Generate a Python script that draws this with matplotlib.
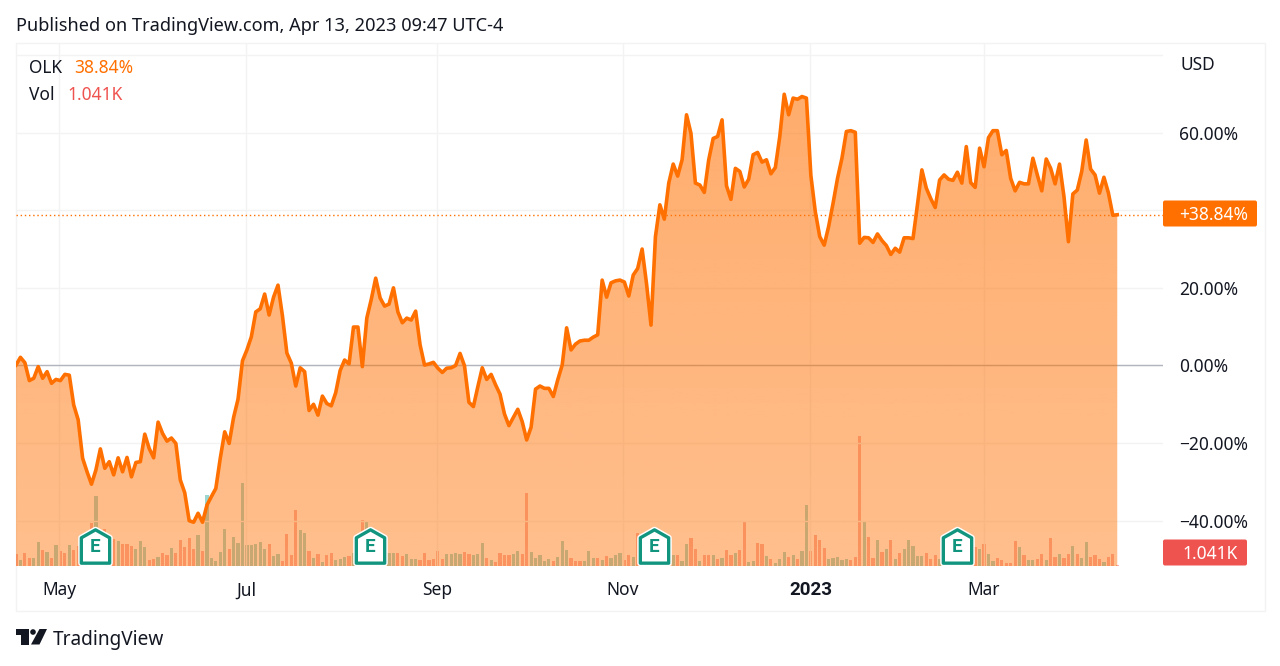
import numpy as np
import matplotlib
matplotlib.use('Agg')
import matplotlib.pyplot as plt
from matplotlib.markers import MarkerStyle
from matplotlib.patches import Circle, Polygon, Rectangle, FancyBboxPatch
from matplotlib.path import Path

ORANGE = '#ff7000'
RED = '#ef5350'
TEAL = '#26a69a'
DARK = '#131722'
GRID = '#f3f3f3'
FLAG = '#12957f'

# percent change, one value per session
pct_change = [
    0.1, 2.1, 0.7, -3.9, -3.3, -0.3, -3.3, -1.6, -4.6, -3.6,
    -3.9, -2.3, -2.5, -10.2, -14.0, -23.9, -27.4, -30.6, -26.9, -21.5,
    -26.5, -24.8, -28.2, -23.8, -27.4, -23.7, -28.7, -25.0, -24.8, -17.7,
    -21.4, -23.8, -14.6, -17.5, -19.5, -18.7, -20.1, -29.5, -32.8, -40.0,
    -40.4, -38.1, -40.4, -36.0, -33.8, -31.7, -23.9, -17.1, -20.1, -13.4,
    -8.7, 1.2, 4.0, 7.4, 13.8, 14.6, 18.4, 13.0, 17.6, 20.7,
    12.8, 3.2, 0.6, -5.3, -0.6, -1.6, -11.6, -10.0, -12.8, -7.9,
    -9.8, -10.4, -7.0, -1.3, 1.4, 0.4, 9.9, 9.9, -0.3, 12.2,
    17.0, 22.5, 17.4, 15.3, 15.8, 20.0, 13.8, 11.0, 12.2, 11.7,
    14.0, 5.3, 0.1, 0.4, 0.8, -0.7, -1.8, -0.7, -0.6, 0.0,
    3.1, -0.1, -9.5, -10.6, -5.5, -0.6, -3.6, -2.3, -5.0, -7.4,
    -12.5, -15.5, -13.4, -11.3, -14.5, -19.2, -15.9, -6.1, -5.3, -5.9,
    -5.9, -8.0, -3.7, 0.1, 9.7, 4.0, 5.5, 6.3, 6.5, 6.5,
    7.3, 7.9, 22.0, 17.6, 21.3, 21.8, 22.0, 21.5, 17.9, 23.3,
    25.0, 30.0, 21.0, 10.4, 33.2, 41.4, 37.7, 47.0, 51.9, 48.8,
    53.0, 64.6, 59.8, 47.0, 46.5, 44.6, 53.0, 58.5, 59.0, 63.3,
    46.3, 42.8, 50.8, 50.0, 46.0, 48.0, 54.3, 54.9, 52.4, 53.0,
    49.4, 51.0, 59.0, 69.9, 64.6, 68.9, 68.6, 69.3, 68.9, 49.0,
    39.6, 33.2, 31.0, 35.8, 41.8, 48.2, 53.4, 60.3, 60.5, 60.1,
    31.5, 33.0, 32.9, 31.7, 33.9, 32.2, 30.9, 28.6, 30.2, 29.2,
    32.9, 32.9, 32.7, 41.4, 50.4, 45.7, 43.0, 40.7, 47.8, 49.1,
    48.0, 47.7, 49.8, 47.0, 56.4, 47.1, 45.9, 56.0, 51.2, 58.7,
    60.5, 60.5, 54.3, 55.4, 48.2, 45.0, 47.2, 46.8, 46.8, 53.4,
    49.1, 45.0, 53.2, 50.8, 46.8, 51.9, 43.5, 31.9, 44.2, 45.2,
    50.0, 58.1, 50.6, 49.1, 44.4, 48.5, 44.5, 38.7, 38.84,
]

# volume in thousands, estimated
vol_k = [
    11.7, 6, 12.7, 8, 8, 24, 16, 14, 8, 20.7, 15.3, 13.3, 20.7, 15.7, 20, 23.3,
    21.7, 43.3, 70, 33.3, 36.7, 26.7, 27.3, 25, 21.7, 22.3, 20, 16.7, 25, 19, 6,
    7.3, 9, 12.7, 11, 18.3, 13.3, 26, 19.3, 28.3, 16.7, 31, 15, 71, 8.3, 4.7,
    14.3, 37.3, 16.7, 29, 22.7, 83.3, 20.7, 20.7, 22, 24.3, 16.7, 21.7, 10, 12.3,
    5, 32.3, 11, 56, 36, 33.3, 15, 7.7, 12.3, 4.3, 10.7, 13.3, 6, 6.7, 9.3, 10,
    13.3, 16.7, 46, 44.3, 31.7, 20, 15, 12.3, 12.7, 12.7, 12.7, 10, 12.3, 7.3,
    6.7, 6,
    13.3, 6, 6.7, 15, 6.7, 12.3, 12.3, 13.3, 11.7, 14.3, 12.3, 11, 11.7, 22.7, 8,
    6, 4, 13.3, 10.7, 10.7, 11.7, 15, 12.3, 73.3, 14, 8.3, 10.7, 5, 7.3, 5, 8.7,
    25, 16, 8.3, 5.3, 5, 4.7, 15, 8.3, 8.3, 6, 10, 8, 11, 12.7, 6, 10.7, 9.3,
    32.7, 20, 6.7, 3.3, 3.3, 3.3, 4, 6.7, 11, 11, 5, 21.7, 28.3, 16.7, 5, 11.3,
    11.3, 10.7, 6.7, 8.3, 15.7, 11, 12.7, 16, 45, 4.3, 5.3, 23.3, 21.7, 10, 7.3,
    2.7, 7.3, 14.3, 9, 10.7, 7.3, 15, 61, 15, 30.7, 25.7, 18.3, 7.3, 8, 9,
    6, 7.3, 6, 9.3, 130, 44, 29.3, 8, 26, 14, 16.7, 26, 6.7, 12.7, 16.7, 26, 20,
    10, 10, 13.3, 7.3, 11.3, 7.3, 4, 3.3, 2.7, 2.7, 2.7, 2.7, 2.7, 19.3, 17.3,
    21.7, 12.3, 5, 8, 6, 2.7, 2.7, 25, 19.3, 11, 6, 6, 7.3, 11.7, 6, 27.7, 9.3,
    12.3, 8, 11.7, 20, 12, 8, 24.3, 9.3, 10.7, 6.7, 4, 8.7, 11.7, 1.041,
]
# u = up session, d = down session
vol_dir = (
    'duddu' 'ududu' 'ddudd' 'dddud' 'ddduddduuu' 'dduddudddd' 'duduuuuudu'
    'uuuuuuuduu' 'dddduududu' 'dduuuduudu' 'duuuuudduu' 'udddddduuu'
    'udduuududd' 'dduudduuuu' 'uduuuddduu' 'ududuuuddu' 'ddddddddud'
    'uudduddudu' 'ddudduuddu' 'duuududuud' 'ddduuuuudd' 'duddududud'
    'uuuuudddud' 'dddddddudu' 'uddddduduu' 'ddudduddud' 'uuddduddd'
)
earnings_days = [17.8, 79.7, 143.7, 211.9]

month_ticks = [9.7, 51.8, 94.8, 136.7, 178.9, 217.9]
month_labels = ['May', 'Jul', 'Sep', 'Nov', '2023', 'Mar']
pct_ticks = [80, 60, 40, 20, 0, -20, -40]
pct_labels = ['', '60.00%', '', '20.00%', '0.00%', '\u221220.00%', '\u221240.00%']
last_pct = 38.84

plt.rcParams['font.family'] = ['Noto Sans', 'DejaVu Sans']

fig = plt.figure(figsize=(12.8, 6.66), dpi=100)

# full figure overlay in pixels for frame, header and logo
bg = fig.add_axes([0, 0, 1, 1], zorder=0)
bg.set_xlim(0, 1280)
bg.set_ylim(666, 0)
bg.axis('off')

rect = [16 / 1280, 1 - 566 / 666, (1163 - 16) / 1280, (566 - 43) / 666]
ax_vol = fig.add_axes(rect, zorder=1)
ax = fig.add_axes(rect, zorder=2)
ax.patch.set_visible(False)

days = np.arange(len(pct_change))
xlim = (0, 258.3)
ylim = (-51.68, 83.1)

# volume sits under the area fill
vol_colors = [TEAL if d == 'u' else RED for d in vol_dir[:len(vol_k)]]
vol_days = np.arange(len(vol_colors))
ax_vol.bar(vol_days, vol_k[:len(vol_colors)], width=0.72, color=vol_colors, alpha=0.46, linewidth=0)
ax_vol.set_xlim(*xlim)
ax_vol.set_ylim(0, 523)
ax_vol.axis('off')

ax.set_xlim(*xlim)
ax.set_ylim(*ylim)
for side in ax.spines.values():
    side.set_visible(False)

ax.set_xticks(month_ticks)
ax.set_xticklabels(month_labels, fontsize=12.5, color=DARK)
ax.get_xticklabels()[4].set_family('Roboto')
ax.get_xticklabels()[4].set_fontweight('bold')
ax.get_xticklabels()[4].set_fontsize(13.5)
ax.set_yticks(pct_ticks)
ax.set_yticklabels(pct_labels, fontsize=12.5, color=DARK, ha='left', va='center_baseline')
ax.yaxis.tick_right()
ax.tick_params(axis='x', length=0, pad=11)
ax.tick_params(axis='y', length=0, pad=11.5)
ax.grid(True, color=GRID, linewidth=1)
ax.set_axisbelow(True)
ax.axhline(0, color='#b2b5be', linewidth=1, zorder=1)

# area fill fades a little towards the bottom
area = ax.fill_between(days, pct_change, ylim[0], color='none', linewidth=0)
fade = np.zeros((256, 1, 4))
fade[:, 0, :3] = matplotlib.colors.to_rgb(ORANGE)
fade[:, 0, 3] = np.linspace(0.58, 0.45, 256)
im = ax.imshow(fade, extent=(0, days[-1], ylim[0], 72), aspect='auto', zorder=2)
im.set_clip_path(area.get_paths()[0], ax.transData)
ax.set_xlim(*xlim)
ax.set_ylim(*ylim)

ax.plot(days, pct_change, color=ORANGE, linewidth=2.6, solid_joinstyle='round', zorder=3)
ax.axhline(last_pct, color=ORANGE, linewidth=1, linestyle=(0, (1, 2)), zorder=3)

# earnings flags
house = Path([(0, 1), (0.85, 0.52), (0.85, -1), (-0.85, -1), (-0.85, 0.52), (0, 1)], closed=True)
house_style = MarkerStyle(house, joinstyle='round')
flag_y = [0.039] * len(earnings_days)
flag_tr = ax.get_xaxis_transform()
ax.plot(earnings_days, flag_y, transform=flag_tr, linestyle='none', marker=house_style,
        markersize=24, mfc='white', mec='white', mew=4.5, zorder=4)
ax.plot(earnings_days, flag_y, transform=flag_tr, linestyle='none', marker=house_style,
        markersize=24, mfc='white', mec=FLAG, mew=2.4, zorder=5)
for d in earnings_days:
    ax.text(d, 0.037, 'E', transform=flag_tr, ha='center', va='center',
            fontsize=13.5, color=FLAG, family='Roboto', fontweight='bold', zorder=6)

# frame, last value tags, header, legend
top = fig.add_axes([0, 0, 1, 1], zorder=3)
top.set_xlim(0, 1280)
top.set_ylim(666, 0)
top.axis('off')
bg.add_patch(Rectangle((15.5, 42.5), 1249, 568, fill=False, edgecolor=GRID, linewidth=1))
top.text(16, 26, 'Published on TradingView.com, Apr 13, 2023 09:47 UTC-4',
         fontsize=13.1, color=DARK, va='center')
top.text(29, 68, 'OLK', fontsize=12.5, color=DARK, va='center')
top.text(74, 68, '38.84%', fontsize=12.5, color=ORANGE, va='center')
top.text(29, 95, 'Vol', fontsize=12.5, color=DARK, va='center')
top.text(67, 95, '1.041K', fontsize=12.5, color=RED, va='center')
top.text(1180, 65, 'USD', fontsize=12.5, color=DARK, va='center')

top.add_patch(FancyBboxPatch((1163, 200.5), 94, 26, boxstyle='round,pad=0,rounding_size=2',
                             facecolor=ORANGE, edgecolor='none'))
top.text(1248, 215, '+38.84%', fontsize=12.5, color='white', ha='right', va='center')
top.add_patch(FancyBboxPatch((1163, 539.5), 84, 26, boxstyle='round,pad=0,rounding_size=2',
                             facecolor=RED, edgecolor='none'))
top.text(1238, 554, '1.041K', fontsize=12.5, color='white', ha='right', va='center')

# logo
top.add_patch(Polygon([(16, 629), (28.5, 629), (28.5, 644.5), (21, 644.5), (21, 634.5), (16, 634.5)],
                      facecolor=DARK, edgecolor='none'))
top.add_patch(Circle((33, 632), 2.8, facecolor=DARK, edgecolor='none'))
top.add_patch(Polygon([(39.5, 629), (47, 629), (39.5, 644.5), (31, 644.5)], facecolor=DARK, edgecolor='none'))
top.text(53, 640, 'TradingView', fontsize=13.7, color=DARK, va='center')

fig.savefig('out.png', dpi=100)
